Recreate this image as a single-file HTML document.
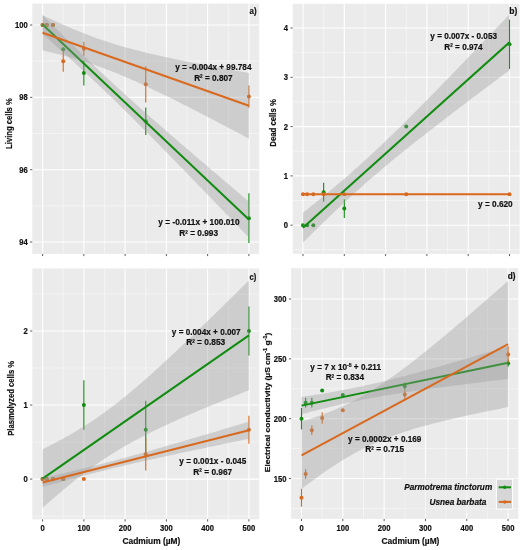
<!DOCTYPE html>
<html><head><meta charset="utf-8"><style>
html,body{margin:0;padding:0;background:#fff;}
svg{display:block;will-change:transform;}
text{font-family:"Liberation Sans",sans-serif;font-weight:bold;fill:#111;stroke:#111;stroke-width:0.2px;}
.sup{font-size:5px;}
.tk{font-size:8.2px;}
.leg{font-style:italic;}
</style></head><body>
<svg width="524" height="550" viewBox="0 0 524 550">
<rect width="524" height="550" fill="#fff"/>
<rect x="32.3" y="3.6" width="226.90" height="250.30" fill="#EBEBEB"/>
<line x1="32.3" x2="259.2" y1="205.85" y2="205.85" stroke="#fff" stroke-width="0.45"/>
<line x1="32.3" x2="259.2" y1="133.51" y2="133.51" stroke="#fff" stroke-width="0.45"/>
<line x1="32.3" x2="259.2" y1="61.17" y2="61.17" stroke="#fff" stroke-width="0.45"/>
<line y1="3.6" y2="253.9" x1="63.23" x2="63.23" stroke="#fff" stroke-width="0.45"/>
<line y1="3.6" y2="253.9" x1="104.49" x2="104.49" stroke="#fff" stroke-width="0.45"/>
<line y1="3.6" y2="253.9" x1="145.75" x2="145.75" stroke="#fff" stroke-width="0.45"/>
<line y1="3.6" y2="253.9" x1="187.01" x2="187.01" stroke="#fff" stroke-width="0.45"/>
<line y1="3.6" y2="253.9" x1="228.27" x2="228.27" stroke="#fff" stroke-width="0.45"/>
<line x1="32.3" x2="259.2" y1="242.02" y2="242.02" stroke="#fff" stroke-width="1.1"/>
<line x1="32.3" x2="259.2" y1="169.68" y2="169.68" stroke="#fff" stroke-width="1.1"/>
<line x1="32.3" x2="259.2" y1="97.34" y2="97.34" stroke="#fff" stroke-width="1.1"/>
<line x1="32.3" x2="259.2" y1="25.00" y2="25.00" stroke="#fff" stroke-width="1.1"/>
<line y1="3.6" y2="253.9" x1="42.60" x2="42.60" stroke="#fff" stroke-width="1.1"/>
<line y1="3.6" y2="253.9" x1="83.86" x2="83.86" stroke="#fff" stroke-width="1.1"/>
<line y1="3.6" y2="253.9" x1="125.12" x2="125.12" stroke="#fff" stroke-width="1.1"/>
<line y1="3.6" y2="253.9" x1="166.38" x2="166.38" stroke="#fff" stroke-width="1.1"/>
<line y1="3.6" y2="253.9" x1="207.64" x2="207.64" stroke="#fff" stroke-width="1.1"/>
<line y1="3.6" y2="253.9" x1="248.90" x2="248.90" stroke="#fff" stroke-width="1.1"/>
<circle cx="42.60" cy="25.00" r="2.0" fill="#108C10"/>
<circle cx="46.73" cy="25.00" r="2.0" fill="#108C10"/>
<circle cx="52.92" cy="25.00" r="2.0" fill="#108C10"/>
<circle cx="63.23" cy="49.23" r="2.0" fill="#108C10"/>
<line x1="83.86" x2="83.86" y1="60.81" y2="85.40" stroke="#108C10" stroke-width="1.1"/>
<circle cx="83.86" cy="73.11" r="2.0" fill="#108C10"/>
<line x1="145.75" x2="145.75" y1="107.47" y2="134.96" stroke="#108C10" stroke-width="1.1"/>
<circle cx="145.75" cy="121.21" r="2.0" fill="#108C10"/>
<line x1="248.90" x2="248.90" y1="193.19" y2="243.11" stroke="#108C10" stroke-width="1.1"/>
<circle cx="248.90" cy="218.15" r="2.0" fill="#108C10"/>
<circle cx="42.60" cy="25.00" r="2.0" fill="#D8691E"/>
<circle cx="46.73" cy="25.00" r="2.0" fill="#D8691E"/>
<circle cx="52.92" cy="25.00" r="2.0" fill="#D8691E"/>
<line x1="63.23" x2="63.23" y1="50.68" y2="71.66" stroke="#D8691E" stroke-width="1.1"/>
<circle cx="63.23" cy="61.17" r="2.0" fill="#D8691E"/>
<line x1="83.86" x2="83.86" y1="42.00" y2="55.74" stroke="#D8691E" stroke-width="1.1"/>
<circle cx="83.86" cy="48.87" r="2.0" fill="#D8691E"/>
<line x1="145.75" x2="145.75" y1="66.23" y2="102.40" stroke="#D8691E" stroke-width="1.1"/>
<circle cx="145.75" cy="84.32" r="2.0" fill="#D8691E"/>
<line x1="248.90" x2="248.90" y1="85.40" y2="107.83" stroke="#D8691E" stroke-width="1.1"/>
<circle cx="248.90" cy="96.62" r="2.0" fill="#D8691E"/>
<polygon points="42.60,14.94 45.18,17.55 47.76,20.16 50.34,22.75 52.92,25.34 55.49,27.93 58.07,30.51 60.65,33.08 63.23,35.64 65.81,38.20 68.39,40.75 70.97,43.29 73.55,45.83 76.12,48.35 78.70,50.87 81.28,53.37 83.86,55.87 86.44,58.36 89.02,60.83 91.60,63.30 94.18,65.76 96.75,68.21 99.33,70.64 101.91,73.07 104.49,75.48 107.07,77.89 109.65,80.29 112.23,82.67 114.81,85.05 117.38,87.42 119.96,89.77 122.54,92.12 125.12,94.46 127.70,96.79 130.28,99.12 132.86,101.43 135.44,103.74 138.01,106.05 140.59,108.34 143.17,110.63 145.75,112.91 148.33,115.19 150.91,117.46 153.49,119.73 156.06,121.99 158.64,124.24 161.22,126.50 163.80,128.75 166.38,130.99 168.96,133.23 171.54,135.47 174.12,137.70 176.69,139.93 179.27,142.16 181.85,144.38 184.43,146.61 187.01,148.82 189.59,151.04 192.17,153.26 194.75,155.47 197.32,157.68 199.90,159.89 202.48,162.09 205.06,164.30 207.64,166.50 210.22,168.70 212.80,170.90 215.38,173.10 217.96,175.30 220.53,177.50 223.11,179.69 225.69,181.89 228.27,184.08 230.85,186.27 233.43,188.46 236.01,190.65 238.59,192.84 241.16,195.02 243.74,197.21 246.32,199.40 248.90,201.58 248.90,237.61 246.32,234.92 243.74,232.23 241.16,229.54 238.59,226.86 236.01,224.17 233.43,221.48 230.85,218.80 228.27,216.11 225.69,213.43 223.11,210.75 220.53,208.07 217.96,205.39 215.38,202.71 212.80,200.03 210.22,197.36 207.64,194.68 205.06,192.01 202.48,189.34 199.90,186.67 197.32,184.00 194.75,181.34 192.17,178.67 189.59,176.01 187.01,173.36 184.43,170.70 181.85,168.05 179.27,165.39 176.69,162.75 174.12,160.10 171.54,157.46 168.96,154.82 166.38,152.18 163.80,149.55 161.22,146.93 158.64,144.30 156.06,141.68 153.49,139.07 150.91,136.46 148.33,133.86 145.75,131.26 143.17,128.66 140.59,126.08 138.01,123.50 135.44,120.92 132.86,118.36 130.28,115.80 127.70,113.25 125.12,110.70 122.54,108.17 119.96,105.64 117.38,103.12 114.81,100.61 112.23,98.11 109.65,95.62 107.07,93.14 104.49,90.67 101.91,88.21 99.33,85.77 96.75,83.33 94.18,80.90 91.60,78.48 89.02,76.07 86.44,73.67 83.86,71.28 81.28,68.90 78.70,66.54 76.12,64.18 73.55,61.82 70.97,59.48 68.39,57.15 65.81,54.82 63.23,52.50 60.65,50.19 58.07,47.89 55.49,45.59 52.92,43.30 50.34,41.02 47.76,38.74 45.18,36.47 42.60,34.20" fill="rgba(153,153,153,0.36)"/>
<line x1="42.60" y1="24.57" x2="248.90" y2="219.60" stroke="#108C10" stroke-width="2"/>
<polygon points="42.60,15.21 45.18,16.43 47.76,17.65 50.34,18.85 52.92,20.04 55.49,21.22 58.07,22.39 60.65,23.55 63.23,24.70 65.81,25.83 68.39,26.94 70.97,28.05 73.55,29.13 76.12,30.20 78.70,31.26 81.28,32.30 83.86,33.32 86.44,34.32 89.02,35.30 91.60,36.27 94.18,37.22 96.75,38.15 99.33,39.06 101.91,39.95 104.49,40.82 107.07,41.68 109.65,42.51 112.23,43.33 114.81,44.13 117.38,44.91 119.96,45.68 122.54,46.43 125.12,47.16 127.70,47.88 130.28,48.59 132.86,49.28 135.44,49.96 138.01,50.62 140.59,51.27 143.17,51.91 145.75,52.54 148.33,53.16 150.91,53.77 153.49,54.37 156.06,54.96 158.64,55.54 161.22,56.12 163.80,56.68 166.38,57.24 168.96,57.80 171.54,58.34 174.12,58.88 176.69,59.42 179.27,59.94 181.85,60.47 184.43,60.99 187.01,61.50 189.59,62.01 192.17,62.51 194.75,63.02 197.32,63.51 199.90,64.01 202.48,64.50 205.06,64.99 207.64,65.47 210.22,65.95 212.80,66.43 215.38,66.91 217.96,67.38 220.53,67.85 223.11,68.32 225.69,68.79 228.27,69.25 230.85,69.72 233.43,70.18 236.01,70.64 238.59,71.09 241.16,71.55 243.74,72.00 246.32,72.46 248.90,72.91 248.90,138.66 246.32,137.29 243.74,135.92 241.16,134.55 238.59,133.18 236.01,131.81 233.43,130.44 230.85,129.08 228.27,127.72 225.69,126.36 223.11,125.00 220.53,123.64 217.96,122.29 215.38,120.94 212.80,119.59 210.22,118.24 207.64,116.90 205.06,115.56 202.48,114.22 199.90,112.89 197.32,111.55 194.75,110.23 192.17,108.90 189.59,107.58 187.01,106.27 184.43,104.96 181.85,103.65 179.27,102.35 176.69,101.05 174.12,99.76 171.54,98.48 168.96,97.20 166.38,95.92 163.80,94.66 161.22,93.40 158.64,92.15 156.06,90.91 153.49,89.67 150.91,88.45 148.33,87.23 145.75,86.02 143.17,84.83 140.59,83.64 138.01,82.47 135.44,81.31 132.86,80.16 130.28,79.03 127.70,77.91 125.12,76.80 122.54,75.71 119.96,74.63 117.38,73.58 114.81,72.53 112.23,71.51 109.65,70.50 107.07,69.51 104.49,68.54 101.91,67.59 99.33,66.66 96.75,65.74 94.18,64.84 91.60,63.97 89.02,63.11 86.44,62.27 83.86,61.44 81.28,60.64 78.70,59.85 76.12,59.08 73.55,58.33 70.97,57.59 68.39,56.87 65.81,56.16 63.23,55.46 60.65,54.78 58.07,54.12 55.49,53.46 52.92,52.82 50.34,52.18 47.76,51.56 45.18,50.95 42.60,50.35" fill="rgba(153,153,153,0.36)"/>
<line x1="42.60" y1="32.78" x2="248.90" y2="105.79" stroke="#D8691E" stroke-width="2"/>
<line x1="30.10" x2="32.3" y1="242.02" y2="242.02" stroke="#333" stroke-width="0.8"/>
<text text-anchor="end" class="tk" transform="translate(27.70,245.12) scale(0.93,1)">94</text>
<line x1="30.10" x2="32.3" y1="169.68" y2="169.68" stroke="#333" stroke-width="0.8"/>
<text text-anchor="end" class="tk" transform="translate(27.70,172.78) scale(0.93,1)">96</text>
<line x1="30.10" x2="32.3" y1="97.34" y2="97.34" stroke="#333" stroke-width="0.8"/>
<text text-anchor="end" class="tk" transform="translate(27.70,100.44) scale(0.93,1)">98</text>
<line x1="30.10" x2="32.3" y1="25.00" y2="25.00" stroke="#333" stroke-width="0.8"/>
<text text-anchor="end" class="tk" transform="translate(27.70,28.10) scale(0.93,1)">100</text>
<line x1="42.60" x2="42.60" y1="253.9" y2="256.10" stroke="#333" stroke-width="0.8"/>
<line x1="83.86" x2="83.86" y1="253.9" y2="256.10" stroke="#333" stroke-width="0.8"/>
<line x1="125.12" x2="125.12" y1="253.9" y2="256.10" stroke="#333" stroke-width="0.8"/>
<line x1="166.38" x2="166.38" y1="253.9" y2="256.10" stroke="#333" stroke-width="0.8"/>
<line x1="207.64" x2="207.64" y1="253.9" y2="256.10" stroke="#333" stroke-width="0.8"/>
<line x1="248.90" x2="248.90" y1="253.9" y2="256.10" stroke="#333" stroke-width="0.8"/>
<rect x="292.7" y="3.8" width="226.90" height="250.10" fill="#EBEBEB"/>
<line x1="292.7" x2="519.6" y1="249.85" y2="249.85" stroke="#fff" stroke-width="0.45"/>
<line x1="292.7" x2="519.6" y1="200.55" y2="200.55" stroke="#fff" stroke-width="0.45"/>
<line x1="292.7" x2="519.6" y1="151.25" y2="151.25" stroke="#fff" stroke-width="0.45"/>
<line x1="292.7" x2="519.6" y1="101.95" y2="101.95" stroke="#fff" stroke-width="0.45"/>
<line x1="292.7" x2="519.6" y1="52.65" y2="52.65" stroke="#fff" stroke-width="0.45"/>
<line y1="3.8" y2="253.9" x1="323.65" x2="323.65" stroke="#fff" stroke-width="0.45"/>
<line y1="3.8" y2="253.9" x1="364.95" x2="364.95" stroke="#fff" stroke-width="0.45"/>
<line y1="3.8" y2="253.9" x1="406.25" x2="406.25" stroke="#fff" stroke-width="0.45"/>
<line y1="3.8" y2="253.9" x1="447.55" x2="447.55" stroke="#fff" stroke-width="0.45"/>
<line y1="3.8" y2="253.9" x1="488.85" x2="488.85" stroke="#fff" stroke-width="0.45"/>
<line x1="292.7" x2="519.6" y1="225.20" y2="225.20" stroke="#fff" stroke-width="1.1"/>
<line x1="292.7" x2="519.6" y1="175.90" y2="175.90" stroke="#fff" stroke-width="1.1"/>
<line x1="292.7" x2="519.6" y1="126.60" y2="126.60" stroke="#fff" stroke-width="1.1"/>
<line x1="292.7" x2="519.6" y1="77.30" y2="77.30" stroke="#fff" stroke-width="1.1"/>
<line x1="292.7" x2="519.6" y1="28.00" y2="28.00" stroke="#fff" stroke-width="1.1"/>
<line y1="3.8" y2="253.9" x1="303.00" x2="303.00" stroke="#fff" stroke-width="1.1"/>
<line y1="3.8" y2="253.9" x1="344.30" x2="344.30" stroke="#fff" stroke-width="1.1"/>
<line y1="3.8" y2="253.9" x1="385.60" x2="385.60" stroke="#fff" stroke-width="1.1"/>
<line y1="3.8" y2="253.9" x1="426.90" x2="426.90" stroke="#fff" stroke-width="1.1"/>
<line y1="3.8" y2="253.9" x1="468.20" x2="468.20" stroke="#fff" stroke-width="1.1"/>
<line y1="3.8" y2="253.9" x1="509.50" x2="509.50" stroke="#fff" stroke-width="1.1"/>
<circle cx="303.00" cy="225.20" r="2.0" fill="#108C10"/>
<circle cx="307.13" cy="225.20" r="2.0" fill="#108C10"/>
<circle cx="313.32" cy="225.20" r="2.0" fill="#108C10"/>
<line x1="323.65" x2="323.65" y1="182.80" y2="201.54" stroke="#108C10" stroke-width="1.1"/>
<circle cx="323.65" cy="192.17" r="2.0" fill="#108C10"/>
<line x1="344.30" x2="344.30" y1="199.22" y2="217.95" stroke="#108C10" stroke-width="1.1"/>
<circle cx="344.30" cy="208.59" r="2.0" fill="#108C10"/>
<circle cx="406.25" cy="126.60" r="2.0" fill="#108C10"/>
<line x1="509.50" x2="509.50" y1="19.62" y2="68.92" stroke="#108C10" stroke-width="1.1"/>
<circle cx="509.50" cy="44.27" r="2.0" fill="#108C10"/>
<circle cx="303.00" cy="194.29" r="2.0" fill="#D8691E"/>
<circle cx="307.13" cy="194.29" r="2.0" fill="#D8691E"/>
<circle cx="313.32" cy="194.29" r="2.0" fill="#D8691E"/>
<circle cx="323.65" cy="194.29" r="2.0" fill="#D8691E"/>
<circle cx="344.30" cy="194.29" r="2.0" fill="#D8691E"/>
<circle cx="406.25" cy="194.29" r="2.0" fill="#D8691E"/>
<circle cx="509.50" cy="194.29" r="2.0" fill="#D8691E"/>
<polygon points="303.00,212.77 305.58,210.72 308.16,208.66 310.74,206.59 313.32,204.51 315.91,202.42 318.49,200.32 321.07,198.21 323.65,196.09 326.23,193.96 328.81,191.82 331.39,189.66 333.98,187.49 336.56,185.31 339.14,183.11 341.72,180.90 344.30,178.68 346.88,176.44 349.46,174.18 352.04,171.91 354.62,169.62 357.21,167.32 359.79,165.00 362.37,162.66 364.95,160.31 367.53,157.95 370.11,155.56 372.69,153.17 375.27,150.75 377.86,148.33 380.44,145.88 383.02,143.43 385.60,140.96 388.18,138.48 390.76,135.99 393.34,133.48 395.93,130.96 398.51,128.43 401.09,125.90 403.67,123.35 406.25,120.79 408.83,118.22 411.41,115.65 413.99,113.07 416.57,110.48 419.16,107.88 421.74,105.27 424.32,102.66 426.90,100.05 429.48,97.42 432.06,94.79 434.64,92.16 437.23,89.52 439.81,86.88 442.39,84.23 444.97,81.58 447.55,78.92 450.13,76.26 452.71,73.60 455.29,70.93 457.88,68.26 460.46,65.59 463.04,62.92 465.62,60.24 468.20,57.56 470.78,54.87 473.36,52.19 475.94,49.50 478.52,46.81 481.11,44.12 483.69,41.42 486.27,38.73 488.85,36.03 491.43,33.33 494.01,30.63 496.59,27.93 499.17,25.23 501.76,22.52 504.34,19.81 506.92,17.11 509.50,14.40 509.50,70.25 506.92,72.17 504.34,74.10 501.76,76.03 499.17,77.95 496.59,79.89 494.01,81.82 491.43,83.75 488.85,85.69 486.27,87.62 483.69,89.56 481.11,91.50 478.52,93.44 475.94,95.39 473.36,97.34 470.78,99.28 468.20,101.24 465.62,103.19 463.04,105.15 460.46,107.10 457.88,109.07 455.29,111.03 452.71,113.00 450.13,114.97 447.55,116.94 444.97,118.92 442.39,120.91 439.81,122.89 437.23,124.88 434.64,126.88 432.06,128.88 429.48,130.89 426.90,132.90 424.32,134.91 421.74,136.94 419.16,138.97 416.57,141.00 413.99,143.05 411.41,145.10 408.83,147.16 406.25,149.23 403.67,151.30 401.09,153.39 398.51,155.49 395.93,157.59 393.34,159.71 390.76,161.84 388.18,163.98 385.60,166.13 383.02,168.30 380.44,170.48 377.86,172.67 375.27,174.88 372.69,177.10 370.11,179.34 367.53,181.59 364.95,183.86 362.37,186.14 359.79,188.44 357.21,190.75 354.62,193.08 352.04,195.43 349.46,197.79 346.88,200.17 344.30,202.57 341.72,204.97 339.14,207.40 336.56,209.84 333.98,212.29 331.39,214.75 328.81,217.23 326.23,219.72 323.65,222.22 321.07,224.74 318.49,227.26 315.91,229.80 313.32,232.35 310.74,234.90 308.16,237.46 305.58,240.04 303.00,242.62" fill="rgba(153,153,153,0.36)"/>
<line x1="303.00" y1="227.70" x2="509.50" y2="42.32" stroke="#108C10" stroke-width="2"/>
<line x1="303.00" y1="194.29" x2="509.50" y2="194.29" stroke="#D8691E" stroke-width="2"/>
<line x1="290.50" x2="292.7" y1="225.20" y2="225.20" stroke="#333" stroke-width="0.8"/>
<text text-anchor="end" class="tk" transform="translate(288.10,228.30) scale(0.93,1)">0</text>
<line x1="290.50" x2="292.7" y1="175.90" y2="175.90" stroke="#333" stroke-width="0.8"/>
<text text-anchor="end" class="tk" transform="translate(288.10,179.00) scale(0.93,1)">1</text>
<line x1="290.50" x2="292.7" y1="126.60" y2="126.60" stroke="#333" stroke-width="0.8"/>
<text text-anchor="end" class="tk" transform="translate(288.10,129.70) scale(0.93,1)">2</text>
<line x1="290.50" x2="292.7" y1="77.30" y2="77.30" stroke="#333" stroke-width="0.8"/>
<text text-anchor="end" class="tk" transform="translate(288.10,80.40) scale(0.93,1)">3</text>
<line x1="290.50" x2="292.7" y1="28.00" y2="28.00" stroke="#333" stroke-width="0.8"/>
<text text-anchor="end" class="tk" transform="translate(288.10,31.10) scale(0.93,1)">4</text>
<line x1="303.00" x2="303.00" y1="253.9" y2="256.10" stroke="#333" stroke-width="0.8"/>
<line x1="344.30" x2="344.30" y1="253.9" y2="256.10" stroke="#333" stroke-width="0.8"/>
<line x1="385.60" x2="385.60" y1="253.9" y2="256.10" stroke="#333" stroke-width="0.8"/>
<line x1="426.90" x2="426.90" y1="253.9" y2="256.10" stroke="#333" stroke-width="0.8"/>
<line x1="468.20" x2="468.20" y1="253.9" y2="256.10" stroke="#333" stroke-width="0.8"/>
<line x1="509.50" x2="509.50" y1="253.9" y2="256.10" stroke="#333" stroke-width="0.8"/>
<rect x="32.3" y="268.5" width="226.90" height="250.80" fill="#EBEBEB"/>
<line x1="32.3" x2="259.2" y1="516.12" y2="516.12" stroke="#fff" stroke-width="0.45"/>
<line x1="32.3" x2="259.2" y1="442.08" y2="442.08" stroke="#fff" stroke-width="0.45"/>
<line x1="32.3" x2="259.2" y1="368.03" y2="368.03" stroke="#fff" stroke-width="0.45"/>
<line x1="32.3" x2="259.2" y1="293.98" y2="293.98" stroke="#fff" stroke-width="0.45"/>
<line y1="268.5" y2="519.3" x1="63.23" x2="63.23" stroke="#fff" stroke-width="0.45"/>
<line y1="268.5" y2="519.3" x1="104.49" x2="104.49" stroke="#fff" stroke-width="0.45"/>
<line y1="268.5" y2="519.3" x1="145.75" x2="145.75" stroke="#fff" stroke-width="0.45"/>
<line y1="268.5" y2="519.3" x1="187.01" x2="187.01" stroke="#fff" stroke-width="0.45"/>
<line y1="268.5" y2="519.3" x1="228.27" x2="228.27" stroke="#fff" stroke-width="0.45"/>
<line x1="32.3" x2="259.2" y1="479.10" y2="479.10" stroke="#fff" stroke-width="1.1"/>
<line x1="32.3" x2="259.2" y1="405.05" y2="405.05" stroke="#fff" stroke-width="1.1"/>
<line x1="32.3" x2="259.2" y1="331.00" y2="331.00" stroke="#fff" stroke-width="1.1"/>
<line y1="268.5" y2="519.3" x1="42.60" x2="42.60" stroke="#fff" stroke-width="1.1"/>
<line y1="268.5" y2="519.3" x1="83.86" x2="83.86" stroke="#fff" stroke-width="1.1"/>
<line y1="268.5" y2="519.3" x1="125.12" x2="125.12" stroke="#fff" stroke-width="1.1"/>
<line y1="268.5" y2="519.3" x1="166.38" x2="166.38" stroke="#fff" stroke-width="1.1"/>
<line y1="268.5" y2="519.3" x1="207.64" x2="207.64" stroke="#fff" stroke-width="1.1"/>
<line y1="268.5" y2="519.3" x1="248.90" x2="248.90" stroke="#fff" stroke-width="1.1"/>
<circle cx="42.60" cy="479.10" r="2.0" fill="#108C10"/>
<circle cx="46.73" cy="479.10" r="2.0" fill="#108C10"/>
<circle cx="52.92" cy="479.10" r="2.0" fill="#108C10"/>
<circle cx="63.23" cy="479.10" r="2.0" fill="#108C10"/>
<line x1="83.86" x2="83.86" y1="380.24" y2="429.86" stroke="#108C10" stroke-width="1.1"/>
<circle cx="83.86" cy="405.05" r="2.0" fill="#108C10"/>
<line x1="145.75" x2="145.75" y1="400.83" y2="458.59" stroke="#108C10" stroke-width="1.1"/>
<circle cx="145.75" cy="429.71" r="2.0" fill="#108C10"/>
<line x1="248.90" x2="248.90" y1="306.56" y2="355.44" stroke="#108C10" stroke-width="1.1"/>
<circle cx="248.90" cy="331.00" r="2.0" fill="#108C10"/>
<circle cx="42.60" cy="479.10" r="2.0" fill="#D8691E"/>
<circle cx="46.73" cy="479.10" r="2.0" fill="#D8691E"/>
<circle cx="52.92" cy="479.10" r="2.0" fill="#D8691E"/>
<circle cx="63.23" cy="479.10" r="2.0" fill="#D8691E"/>
<circle cx="83.86" cy="479.10" r="2.0" fill="#D8691E"/>
<line x1="145.75" x2="145.75" y1="438.00" y2="470.58" stroke="#D8691E" stroke-width="1.1"/>
<circle cx="145.75" cy="454.29" r="2.0" fill="#D8691E"/>
<line x1="248.90" x2="248.90" y1="415.64" y2="443.78" stroke="#D8691E" stroke-width="1.1"/>
<circle cx="248.90" cy="429.71" r="2.0" fill="#D8691E"/>
<polygon points="42.60,449.21 45.18,447.94 47.76,446.65 50.34,445.35 52.92,444.02 55.49,442.68 58.07,441.32 60.65,439.94 63.23,438.54 65.81,437.11 68.39,435.66 70.97,434.19 73.55,432.69 76.12,431.17 78.70,429.61 81.28,428.03 83.86,426.42 86.44,424.78 89.02,423.11 91.60,421.41 94.18,419.68 96.75,417.92 99.33,416.12 101.91,414.30 104.49,412.44 107.07,410.55 109.65,408.63 112.23,406.68 114.81,404.71 117.38,402.70 119.96,400.66 122.54,398.60 125.12,396.51 127.70,394.40 130.28,392.26 132.86,390.10 135.44,387.92 138.01,385.71 140.59,383.49 143.17,381.24 145.75,378.98 148.33,376.70 150.91,374.40 153.49,372.09 156.06,369.76 158.64,367.42 161.22,365.06 163.80,362.69 166.38,360.31 168.96,357.92 171.54,355.51 174.12,353.10 176.69,350.68 179.27,348.25 181.85,345.81 184.43,343.36 187.01,340.90 189.59,338.44 192.17,335.97 194.75,333.49 197.32,331.00 199.90,328.51 202.48,326.02 205.06,323.52 207.64,321.01 210.22,318.50 212.80,315.99 215.38,313.47 217.96,310.94 220.53,308.41 223.11,305.88 225.69,303.35 228.27,300.81 230.85,298.27 233.43,295.72 236.01,293.17 238.59,290.62 241.16,288.07 243.74,285.51 246.32,282.95 248.90,280.39 248.90,390.29 246.32,391.31 243.74,392.33 241.16,393.35 238.59,394.38 236.01,395.41 233.43,396.44 230.85,397.48 228.27,398.52 225.69,399.56 223.11,400.60 220.53,401.65 217.96,402.71 215.38,403.76 212.80,404.82 210.22,405.89 207.64,406.96 205.06,408.03 202.48,409.11 199.90,410.20 197.32,411.29 194.75,412.39 192.17,413.49 189.59,414.60 187.01,415.72 184.43,416.84 181.85,417.97 179.27,419.11 176.69,420.26 174.12,421.42 171.54,422.59 168.96,423.77 166.38,424.95 163.80,426.15 161.22,427.37 158.64,428.59 156.06,429.83 153.49,431.08 150.91,432.35 148.33,433.63 145.75,434.93 143.17,436.25 140.59,437.59 138.01,438.94 135.44,440.32 132.86,441.71 130.28,443.13 127.70,444.58 125.12,446.04 122.54,447.54 119.96,449.06 117.38,450.60 114.81,452.18 112.23,453.78 109.65,455.41 107.07,457.07 104.49,458.77 101.91,460.49 99.33,462.25 96.75,464.03 94.18,465.85 91.60,467.70 89.02,469.58 86.44,471.49 83.86,473.43 81.28,475.40 78.70,477.40 76.12,479.43 73.55,481.48 70.97,483.56 68.39,485.67 65.81,487.80 63.23,489.96 60.65,492.14 58.07,494.34 55.49,496.56 52.92,498.80 50.34,501.05 47.76,503.33 45.18,505.62 42.60,507.93" fill="rgba(153,153,153,0.36)"/>
<line x1="42.60" y1="478.57" x2="248.90" y2="335.34" stroke="#108C10" stroke-width="2"/>
<polygon points="42.60,477.89 45.18,477.31 47.76,476.74 50.34,476.16 52.92,475.58 55.49,475.00 58.07,474.41 60.65,473.82 63.23,473.23 65.81,472.63 68.39,472.03 70.97,471.43 73.55,470.82 76.12,470.21 78.70,469.59 81.28,468.97 83.86,468.35 86.44,467.72 89.02,467.08 91.60,466.44 94.18,465.80 96.75,465.15 99.33,464.50 101.91,463.84 104.49,463.18 107.07,462.51 109.65,461.83 112.23,461.16 114.81,460.47 117.38,459.79 119.96,459.10 122.54,458.40 125.12,457.70 127.70,457.00 130.28,456.29 132.86,455.58 135.44,454.87 138.01,454.15 140.59,453.43 143.17,452.70 145.75,451.98 148.33,451.25 150.91,450.52 153.49,449.78 156.06,449.04 158.64,448.30 161.22,447.56 163.80,446.82 166.38,446.08 168.96,445.33 171.54,444.58 174.12,443.83 176.69,443.08 179.27,442.33 181.85,441.57 184.43,440.82 187.01,440.06 189.59,439.30 192.17,438.54 194.75,437.78 197.32,437.02 199.90,436.26 202.48,435.50 205.06,434.73 207.64,433.97 210.22,433.20 212.80,432.44 215.38,431.67 217.96,430.90 220.53,430.13 223.11,429.37 225.69,428.60 228.27,427.83 230.85,427.06 233.43,426.29 236.01,425.51 238.59,424.74 241.16,423.97 243.74,423.20 246.32,422.43 248.90,421.65 248.90,438.77 246.32,439.30 243.74,439.83 241.16,440.37 238.59,440.90 236.01,441.44 233.43,441.97 230.85,442.51 228.27,443.04 225.69,443.58 223.11,444.12 220.53,444.65 217.96,445.19 215.38,445.73 212.80,446.27 210.22,446.81 207.64,447.35 205.06,447.89 202.48,448.44 199.90,448.98 197.32,449.52 194.75,450.07 192.17,450.61 189.59,451.16 187.01,451.71 184.43,452.26 181.85,452.81 179.27,453.36 176.69,453.92 174.12,454.47 171.54,455.03 168.96,455.58 166.38,456.14 163.80,456.70 161.22,457.27 158.64,457.83 156.06,458.40 153.49,458.97 150.91,459.54 148.33,460.11 145.75,460.69 143.17,461.27 140.59,461.85 138.01,462.44 135.44,463.03 132.86,463.62 130.28,464.21 127.70,464.81 125.12,465.42 122.54,466.02 119.96,466.63 117.38,467.25 114.81,467.87 112.23,468.49 109.65,469.12 107.07,469.75 104.49,470.39 101.91,471.03 99.33,471.68 96.75,472.33 94.18,472.99 91.60,473.65 89.02,474.32 86.44,474.99 83.86,475.67 81.28,476.35 78.70,477.04 76.12,477.73 73.55,478.42 70.97,479.12 68.39,479.82 65.81,480.53 63.23,481.24 60.65,481.95 58.07,482.67 55.49,483.39 52.92,484.11 50.34,484.84 47.76,485.57 45.18,486.30 42.60,487.03" fill="rgba(153,153,153,0.36)"/>
<line x1="42.60" y1="482.46" x2="248.90" y2="430.21" stroke="#D8691E" stroke-width="2"/>
<line x1="30.10" x2="32.3" y1="479.10" y2="479.10" stroke="#333" stroke-width="0.8"/>
<text text-anchor="end" class="tk" transform="translate(27.70,482.20) scale(0.93,1)">0</text>
<line x1="30.10" x2="32.3" y1="405.05" y2="405.05" stroke="#333" stroke-width="0.8"/>
<text text-anchor="end" class="tk" transform="translate(27.70,408.15) scale(0.93,1)">1</text>
<line x1="30.10" x2="32.3" y1="331.00" y2="331.00" stroke="#333" stroke-width="0.8"/>
<text text-anchor="end" class="tk" transform="translate(27.70,334.10) scale(0.93,1)">2</text>
<line x1="42.60" x2="42.60" y1="519.3" y2="521.50" stroke="#333" stroke-width="0.8"/>
<text text-anchor="middle" class="tk" transform="translate(42.60,531.20) scale(0.93,1)">0</text>
<line x1="83.86" x2="83.86" y1="519.3" y2="521.50" stroke="#333" stroke-width="0.8"/>
<text text-anchor="middle" class="tk" transform="translate(83.86,531.20) scale(0.93,1)">100</text>
<line x1="125.12" x2="125.12" y1="519.3" y2="521.50" stroke="#333" stroke-width="0.8"/>
<text text-anchor="middle" class="tk" transform="translate(125.12,531.20) scale(0.93,1)">200</text>
<line x1="166.38" x2="166.38" y1="519.3" y2="521.50" stroke="#333" stroke-width="0.8"/>
<text text-anchor="middle" class="tk" transform="translate(166.38,531.20) scale(0.93,1)">300</text>
<line x1="207.64" x2="207.64" y1="519.3" y2="521.50" stroke="#333" stroke-width="0.8"/>
<text text-anchor="middle" class="tk" transform="translate(207.64,531.20) scale(0.93,1)">400</text>
<line x1="248.90" x2="248.90" y1="519.3" y2="521.50" stroke="#333" stroke-width="0.8"/>
<text text-anchor="middle" class="tk" transform="translate(248.90,531.20) scale(0.93,1)">500</text>
<rect x="291.1" y="268.2" width="227.20" height="250.70" fill="#EBEBEB"/>
<line x1="291.1" x2="518.3" y1="508.48" y2="508.48" stroke="#fff" stroke-width="0.45"/>
<line x1="291.1" x2="518.3" y1="448.62" y2="448.62" stroke="#fff" stroke-width="0.45"/>
<line x1="291.1" x2="518.3" y1="388.77" y2="388.77" stroke="#fff" stroke-width="0.45"/>
<line x1="291.1" x2="518.3" y1="328.92" y2="328.92" stroke="#fff" stroke-width="0.45"/>
<line y1="268.2" y2="518.9" x1="322.16" x2="322.16" stroke="#fff" stroke-width="0.45"/>
<line y1="268.2" y2="518.9" x1="363.48" x2="363.48" stroke="#fff" stroke-width="0.45"/>
<line y1="268.2" y2="518.9" x1="404.80" x2="404.80" stroke="#fff" stroke-width="0.45"/>
<line y1="268.2" y2="518.9" x1="446.12" x2="446.12" stroke="#fff" stroke-width="0.45"/>
<line y1="268.2" y2="518.9" x1="487.44" x2="487.44" stroke="#fff" stroke-width="0.45"/>
<line x1="291.1" x2="518.3" y1="478.55" y2="478.55" stroke="#fff" stroke-width="1.1"/>
<line x1="291.1" x2="518.3" y1="418.70" y2="418.70" stroke="#fff" stroke-width="1.1"/>
<line x1="291.1" x2="518.3" y1="358.85" y2="358.85" stroke="#fff" stroke-width="1.1"/>
<line x1="291.1" x2="518.3" y1="299.00" y2="299.00" stroke="#fff" stroke-width="1.1"/>
<line y1="268.2" y2="518.9" x1="301.50" x2="301.50" stroke="#fff" stroke-width="1.1"/>
<line y1="268.2" y2="518.9" x1="342.82" x2="342.82" stroke="#fff" stroke-width="1.1"/>
<line y1="268.2" y2="518.9" x1="384.14" x2="384.14" stroke="#fff" stroke-width="1.1"/>
<line y1="268.2" y2="518.9" x1="425.46" x2="425.46" stroke="#fff" stroke-width="1.1"/>
<line y1="268.2" y2="518.9" x1="466.78" x2="466.78" stroke="#fff" stroke-width="1.1"/>
<line y1="268.2" y2="518.9" x1="508.10" x2="508.10" stroke="#fff" stroke-width="1.1"/>
<line x1="301.50" x2="301.50" y1="407.93" y2="429.47" stroke="#108C10" stroke-width="1.1"/>
<circle cx="301.50" cy="418.70" r="2.0" fill="#108C10"/>
<line x1="305.63" x2="305.63" y1="397.87" y2="407.45" stroke="#108C10" stroke-width="1.1"/>
<circle cx="305.63" cy="402.66" r="2.0" fill="#108C10"/>
<line x1="311.83" x2="311.83" y1="397.87" y2="407.45" stroke="#108C10" stroke-width="1.1"/>
<circle cx="311.83" cy="402.66" r="2.0" fill="#108C10"/>
<circle cx="322.16" cy="390.57" r="2.0" fill="#108C10"/>
<circle cx="342.82" cy="395.12" r="2.0" fill="#108C10"/>
<line x1="404.80" x2="404.80" y1="382.55" y2="389.73" stroke="#108C10" stroke-width="1.1"/>
<circle cx="404.80" cy="386.14" r="2.0" fill="#108C10"/>
<line x1="508.10" x2="508.10" y1="359.69" y2="366.87" stroke="#108C10" stroke-width="1.1"/>
<circle cx="508.10" cy="363.28" r="2.0" fill="#108C10"/>
<line x1="301.50" x2="301.50" y1="488.72" y2="506.68" stroke="#D8691E" stroke-width="1.1"/>
<circle cx="301.50" cy="497.70" r="2.0" fill="#D8691E"/>
<line x1="305.63" x2="305.63" y1="469.33" y2="478.91" stroke="#D8691E" stroke-width="1.1"/>
<circle cx="305.63" cy="474.12" r="2.0" fill="#D8691E"/>
<line x1="311.83" x2="311.83" y1="425.40" y2="434.98" stroke="#D8691E" stroke-width="1.1"/>
<circle cx="311.83" cy="430.19" r="2.0" fill="#D8691E"/>
<line x1="322.16" x2="322.16" y1="412.36" y2="423.85" stroke="#D8691E" stroke-width="1.1"/>
<circle cx="322.16" cy="418.10" r="2.0" fill="#D8691E"/>
<circle cx="342.82" cy="410.32" r="2.0" fill="#D8691E"/>
<line x1="404.80" x2="404.80" y1="390.33" y2="398.47" stroke="#D8691E" stroke-width="1.1"/>
<circle cx="404.80" cy="394.40" r="2.0" fill="#D8691E"/>
<line x1="508.10" x2="508.10" y1="346.16" y2="362.68" stroke="#D8691E" stroke-width="1.1"/>
<circle cx="508.10" cy="354.42" r="2.0" fill="#D8691E"/>
<polygon points="301.50,396.96 304.08,396.58 306.67,396.19 309.25,395.79 311.83,395.40 314.41,394.99 317.00,394.58 319.58,394.17 322.16,393.75 324.74,393.32 327.32,392.88 329.91,392.44 332.49,391.99 335.07,391.53 337.65,391.06 340.24,390.59 342.82,390.11 345.40,389.61 347.99,389.11 350.57,388.60 353.15,388.08 355.73,387.56 358.31,387.02 360.90,386.47 363.48,385.92 366.06,385.35 368.64,384.78 371.23,384.19 373.81,383.60 376.39,383.00 378.98,382.39 381.56,381.78 384.14,381.15 386.72,380.52 389.31,379.88 391.89,379.24 394.47,378.59 397.05,377.93 399.63,377.26 402.22,376.59 404.80,375.92 407.38,375.23 409.97,374.55 412.55,373.86 415.13,373.16 417.71,372.46 420.30,371.76 422.88,371.05 425.46,370.34 428.04,369.63 430.62,368.91 433.21,368.19 435.79,367.47 438.37,366.74 440.96,366.02 443.54,365.29 446.12,364.55 448.70,363.82 451.28,363.08 453.87,362.34 456.45,361.60 459.03,360.86 461.62,360.11 464.20,359.37 466.78,358.62 469.36,357.87 471.94,357.12 474.53,356.37 477.11,355.62 479.69,354.86 482.27,354.11 484.86,353.35 487.44,352.59 490.02,351.84 492.61,351.08 495.19,350.32 497.77,349.56 500.35,348.80 502.94,348.03 505.52,347.27 508.10,346.51 508.10,378.93 505.52,379.24 502.94,379.55 500.35,379.86 497.77,380.17 495.19,380.49 492.61,380.80 490.02,381.11 487.44,381.43 484.86,381.74 482.27,382.06 479.69,382.38 477.11,382.69 474.53,383.01 471.94,383.34 469.36,383.66 466.78,383.98 464.20,384.31 461.62,384.63 459.03,384.96 456.45,385.29 453.87,385.62 451.28,385.96 448.70,386.29 446.12,386.63 443.54,386.97 440.96,387.31 438.37,387.66 435.79,388.00 433.21,388.35 430.62,388.70 428.04,389.06 425.46,389.42 422.88,389.78 420.30,390.15 417.71,390.52 415.13,390.89 412.55,391.27 409.97,391.65 407.38,392.04 404.80,392.43 402.22,392.82 399.63,393.23 397.05,393.63 394.47,394.05 391.89,394.47 389.31,394.89 386.72,395.33 384.14,395.77 381.56,396.22 378.98,396.67 376.39,397.14 373.81,397.61 371.23,398.09 368.64,398.58 366.06,399.08 363.48,399.59 360.90,400.10 358.31,400.63 355.73,401.16 353.15,401.71 350.57,402.26 347.99,402.83 345.40,403.40 342.82,403.98 340.24,404.57 337.65,405.17 335.07,405.77 332.49,406.39 329.91,407.01 327.32,407.64 324.74,408.27 322.16,408.92 319.58,409.57 317.00,410.23 314.41,410.89 311.83,411.56 309.25,412.23 306.67,412.91 304.08,413.60 301.50,414.29" fill="rgba(153,153,153,0.36)"/>
<line x1="301.50" y1="405.62" x2="508.10" y2="362.72" stroke="#108C10" stroke-width="2"/>
<polygon points="301.50,421.64 304.08,420.85 306.67,420.03 309.25,419.20 311.83,418.35 314.41,417.47 317.00,416.57 319.58,415.65 322.16,414.71 324.74,413.73 327.32,412.73 329.91,411.71 332.49,410.65 335.07,409.56 337.65,408.44 340.24,407.29 342.82,406.11 345.40,404.89 347.99,403.64 350.57,402.35 353.15,401.02 355.73,399.67 358.31,398.27 360.90,396.84 363.48,395.37 366.06,393.87 368.64,392.33 371.23,390.76 373.81,389.15 376.39,387.51 378.98,385.84 381.56,384.14 384.14,382.40 386.72,380.64 389.31,378.85 391.89,377.04 394.47,375.19 397.05,373.33 399.63,371.44 402.22,369.52 404.80,367.59 407.38,365.64 409.97,363.66 412.55,361.67 415.13,359.66 417.71,357.64 420.30,355.60 422.88,353.54 425.46,351.47 428.04,349.39 430.62,347.30 433.21,345.19 435.79,343.08 438.37,340.95 440.96,338.81 443.54,336.67 446.12,334.51 448.70,332.35 451.28,330.17 453.87,327.99 456.45,325.81 459.03,323.61 461.62,321.41 464.20,319.21 466.78,317.00 469.36,314.78 471.94,312.55 474.53,310.33 477.11,308.09 479.69,305.86 482.27,303.62 484.86,301.37 487.44,299.12 490.02,296.87 492.61,294.61 495.19,292.35 497.77,290.08 500.35,287.82 502.94,285.55 505.52,283.27 508.10,281.00 508.10,407.11 505.52,407.61 502.94,408.12 500.35,408.63 497.77,409.15 495.19,409.67 492.61,410.19 490.02,410.71 487.44,411.24 484.86,411.77 482.27,412.31 479.69,412.85 477.11,413.40 474.53,413.95 471.94,414.50 469.36,415.06 466.78,415.62 464.20,416.19 461.62,416.77 459.03,417.35 456.45,417.94 453.87,418.54 451.28,419.14 448.70,419.75 446.12,420.37 443.54,420.99 440.96,421.63 438.37,422.27 435.79,422.93 433.21,423.59 430.62,424.27 428.04,424.96 425.46,425.66 422.88,426.37 420.30,427.10 417.71,427.84 415.13,428.60 412.55,429.37 409.97,430.16 407.38,430.97 404.80,431.80 402.22,432.65 399.63,433.52 397.05,434.41 394.47,435.32 391.89,436.26 389.31,437.23 386.72,438.22 384.14,439.24 381.56,440.29 378.98,441.37 376.39,442.48 373.81,443.63 371.23,444.80 368.64,446.01 366.06,447.25 363.48,448.53 360.90,449.85 358.31,451.20 355.73,452.59 353.15,454.01 350.57,455.47 347.99,456.96 345.40,458.49 342.82,460.05 340.24,461.65 337.65,463.28 335.07,464.94 332.49,466.64 329.91,468.36 327.32,470.12 324.74,471.90 322.16,473.71 319.58,475.55 317.00,477.41 314.41,479.29 311.83,481.20 309.25,483.13 306.67,485.08 304.08,487.04 301.50,489.03" fill="rgba(153,153,153,0.36)"/>
<line x1="301.50" y1="455.34" x2="508.10" y2="344.05" stroke="#D8691E" stroke-width="2"/>
<line x1="288.90" x2="291.1" y1="478.55" y2="478.55" stroke="#333" stroke-width="0.8"/>
<text text-anchor="end" class="tk" transform="translate(286.50,481.65) scale(0.93,1)">150</text>
<line x1="288.90" x2="291.1" y1="418.70" y2="418.70" stroke="#333" stroke-width="0.8"/>
<text text-anchor="end" class="tk" transform="translate(286.50,421.80) scale(0.93,1)">200</text>
<line x1="288.90" x2="291.1" y1="358.85" y2="358.85" stroke="#333" stroke-width="0.8"/>
<text text-anchor="end" class="tk" transform="translate(286.50,361.95) scale(0.93,1)">250</text>
<line x1="288.90" x2="291.1" y1="299.00" y2="299.00" stroke="#333" stroke-width="0.8"/>
<text text-anchor="end" class="tk" transform="translate(286.50,302.10) scale(0.93,1)">300</text>
<line x1="301.50" x2="301.50" y1="518.9" y2="521.10" stroke="#333" stroke-width="0.8"/>
<text text-anchor="middle" class="tk" transform="translate(301.50,530.80) scale(0.93,1)">0</text>
<line x1="342.82" x2="342.82" y1="518.9" y2="521.10" stroke="#333" stroke-width="0.8"/>
<text text-anchor="middle" class="tk" transform="translate(342.82,530.80) scale(0.93,1)">100</text>
<line x1="384.14" x2="384.14" y1="518.9" y2="521.10" stroke="#333" stroke-width="0.8"/>
<text text-anchor="middle" class="tk" transform="translate(384.14,530.80) scale(0.93,1)">200</text>
<line x1="425.46" x2="425.46" y1="518.9" y2="521.10" stroke="#333" stroke-width="0.8"/>
<text text-anchor="middle" class="tk" transform="translate(425.46,530.80) scale(0.93,1)">300</text>
<line x1="466.78" x2="466.78" y1="518.9" y2="521.10" stroke="#333" stroke-width="0.8"/>
<text text-anchor="middle" class="tk" transform="translate(466.78,530.80) scale(0.93,1)">400</text>
<line x1="508.10" x2="508.10" y1="518.9" y2="521.10" stroke="#333" stroke-width="0.8"/>
<text text-anchor="middle" class="tk" transform="translate(508.10,530.80) scale(0.93,1)">500</text>
<rect x="401" y="474" width="116" height="39" fill="#EBEBEB" fill-opacity="0.5"/>
<rect x="496.4" y="479.2" width="16.2" height="29.8" fill="#D6D6D6" stroke="#fff" stroke-width="1"/>
<line x1="498.7" x2="511" y1="487.3" y2="487.3" stroke="#108C10" stroke-width="2"/><circle cx="504.8" cy="487.3" r="1.75" fill="#108C10"/>
<line x1="498.7" x2="511" y1="501.9" y2="501.9" stroke="#D8691E" stroke-width="2"/><circle cx="504.8" cy="501.9" r="1.75" fill="#D8691E"/>
<text class="eq" style="font-size:9.0px" transform="translate(175.25,69.80) scale(0.913,1)">y = -0.004x + 99.784</text>
<text class="eq" style="font-size:9.0px" transform="translate(194.14,80.50) scale(0.916,1)">R<tspan class='sup' dy='-2.4'>2</tspan><tspan dy='2.4'> = 0.807</tspan></text>
<text class="eq" style="font-size:9.0px" transform="translate(158.30,225.40) scale(0.924,1)">y = -0.011x + 100.010</text>
<text class="eq" style="font-size:9.0px" transform="translate(179.34,236.00) scale(0.921,1)">R<tspan class='sup' dy='-2.4'>2</tspan><tspan dy='2.4'> = 0.993</tspan></text>
<text class="eq" style="font-size:9.0px" transform="translate(430.30,38.90) scale(0.909,1)">y = 0.007x - 0.053</text>
<text class="eq" style="font-size:9.0px" transform="translate(444.34,49.50) scale(0.911,1)">R<tspan class='sup' dy='-2.4'>2</tspan><tspan dy='2.4'> = 0.974</tspan></text>
<text class="eq" style="font-size:9.0px" transform="translate(478.10,207.40) scale(0.917,1)">y = 0.620</text>
<text class="eq" style="font-size:9.0px" transform="translate(171.80,334.50) scale(0.911,1)">y = 0.004x + 0.007</text>
<text class="eq" style="font-size:9.0px" transform="translate(186.13,344.90) scale(0.931,1)">R<tspan class='sup' dy='-2.4'>2</tspan><tspan dy='2.4'> = 0.853</tspan></text>
<text class="eq" style="font-size:9.0px" transform="translate(179.30,464.20) scale(0.914,1)">y = 0.001x - 0.045</text>
<text class="eq" style="font-size:9.0px" transform="translate(193.34,474.60) scale(0.926,1)">R<tspan class='sup' dy='-2.4'>2</tspan><tspan dy='2.4'> = 0.967</tspan></text>
<text class="eq" style="font-size:9.0px" transform="translate(310.30,370.00) scale(0.912,1)">y = 7 x 10<tspan style='font-size:5.6px' dy='-2.9'>-5</tspan><tspan dy='2.9'> + 0.211</tspan></text>
<text class="eq" style="font-size:9.0px" transform="translate(325.64,380.40) scale(0.913,1)">R<tspan class='sup' dy='-2.4'>2</tspan><tspan dy='2.4'> = 0.834</tspan></text>
<text class="eq" style="font-size:9.0px" transform="translate(348.10,441.70) scale(0.909,1)">y = 0.0002x + 0.169</text>
<text class="eq" style="font-size:9.0px" transform="translate(365.24,452.40) scale(0.926,1)">R<tspan class='sup' dy='-2.4'>2</tspan><tspan dy='2.4'> = 0.715</tspan></text>
<text class="tag" style="font-size:8.6px" transform="translate(249.58,13.50) scale(0.924,1)">a)</text>
<text class="tag" style="font-size:8.6px" transform="translate(509.20,13.70) scale(0.993,1)">b)</text>
<text class="tag" style="font-size:8.6px" transform="translate(249.58,279.60) scale(0.898,1)">c)</text>
<text class="tag" style="font-size:8.6px" transform="translate(507.76,278.50) scale(0.960,1)">d)</text>
<text class="ax" style="font-size:9.0px" transform="translate(122.47,544.00) scale(0.931,1)">Cadmium (µM)</text>
<text class="ax" style="font-size:9.0px" transform="translate(381.57,543.80) scale(0.931,1)">Cadmium (µM)</text>
<text class="leg" style="font-size:9.0px" transform="translate(404.19,490.20) scale(0.912,1)">Parmotrema tinctorum</text>
<text class="leg" style="font-size:9.0px" transform="translate(429.46,504.60) scale(0.919,1)">Usnea barbata</text>
<text class="ax" style="font-size:9.0px" transform="translate(12.20,148.93) rotate(-90) scale(0.854,1)">Living cells %</text>
<text class="ax" style="font-size:9.0px" transform="translate(275.70,146.63) rotate(-90) scale(0.863,1)">Dead cells %</text>
<text class="ax" style="font-size:9.0px" transform="translate(13.60,435.83) rotate(-90) scale(0.858,1)">Plasmolyzed cells %</text>
<text class="ax" style="font-size:7.6px" transform="translate(269.70,472.22) rotate(-90) scale(1.109,1)">Electrical conductivity (µS cm<tspan class='sup' dy='-3'>-1</tspan><tspan dy='3'> g</tspan><tspan class='sup' dy='-3'>-1</tspan><tspan dy='3'>)</tspan></text>
</svg></body></html>
